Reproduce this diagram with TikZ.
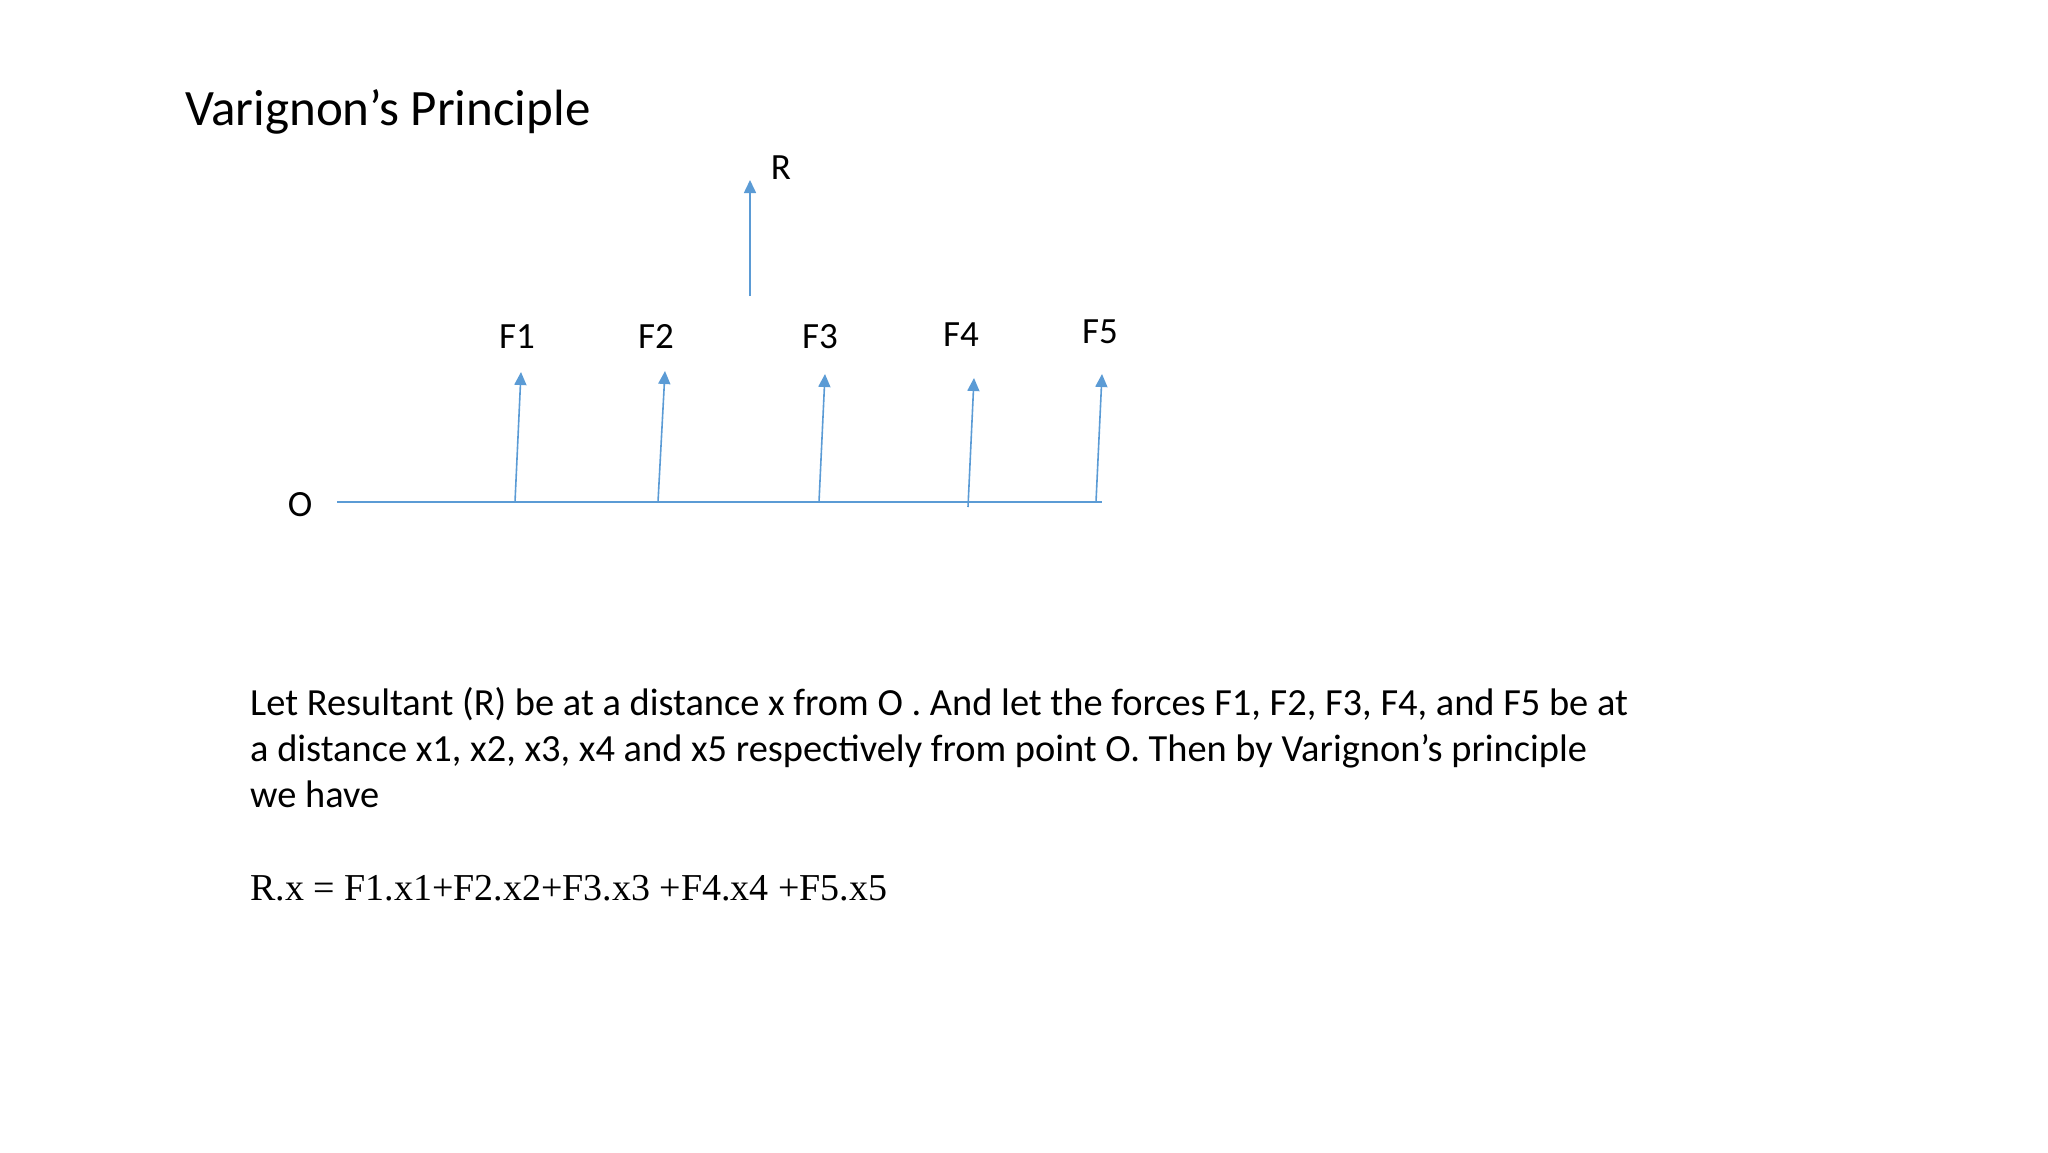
\documentclass[tikz,border=0pt]{standalone}
\usepackage{fontspec}
\setmainfont{Carlito}
\newfontfamily\eqfont{Liberation Serif}
\usetikzlibrary{arrows.meta}
\definecolor{forceblue}{HTML}{5B9BD5}
\tikzset{
  lbl/.style={anchor=base, inner sep=0pt, font=\fontsize{37}{44}\selectfont},
  force/.style={draw=forceblue, line width=1.6pt, -{Triangle[length=13pt,width=12pt]}},
}
\begin{document}
\begin{tikzpicture}[x=1pt,y=-1pt]
      \useasboundingbox (0,0) rectangle (2048,1152);
      \node[anchor=base west, inner sep=0pt, font=\fontsize{51}{61}\selectfont] (title) at (185,125) {Varignon’s Principle};
      \draw
        (300,516) node[lbl] (O){O}
        (781,179) node[lbl] (R){R}
        (517,348) node[lbl] (F1){F1}
        (656,348) node[lbl] (F2){F2}
        (820,348) node[lbl] (F3){F3}
        (961,346) node[lbl] (F4){F4}
        (1100,343) node[lbl] (F5){F5};
      \coordinate (o) at (337,502);
      \coordinate (e) at (1102,502);
      \coordinate (r0) at (750,296);
      \coordinate (r1) at (750,180);
      \coordinate (a1) at (515,502);
      \coordinate (b1) at (521,372);
      \coordinate (a2) at (658,502);
      \coordinate (b2) at (665,371);
      \coordinate (a3) at (819,502);
      \coordinate (b3) at (825,374);
      \coordinate (a4) at (968,507);
      \coordinate (b4) at (974,378);
      \coordinate (a5) at (1096,502);
      \coordinate (b5) at (1102,374);
      \draw[forceblue, line width=2pt] (o) -- (e);
      \begin{scope}[force]
        \draw (r0) to (r1);
        \draw (a1) to (b1);
        \draw (a2) to (b2);
        \draw (a3) to (b3);
        \draw (a4) to (b4);
        \draw (a5) to (b5);
      \end{scope}
      % the base anchor of a multi-line node sits on its last line
      \node[anchor=base west, inner sep=0pt, align=left, font=\fontsize{38.4}{45.8}\selectfont] (text) at (250,807)
        {Let Resultant (R) be at a distance x from O . And let the forces F1, F2, F3, F4, and F5 be at\\
         a distance x1, x2, x3, x4 and x5 respectively from point O. Then by Varignon’s principle\\
         we have};
      \node[anchor=base west, inner sep=0pt, font=\eqfont\fontsize{38}{46}\selectfont] (eq) at (250,900)
        {R.x = F1.x1+F2.x2+F3.x3 +F4.x4 +F5.x5};
    \end{tikzpicture}
\end{document}
